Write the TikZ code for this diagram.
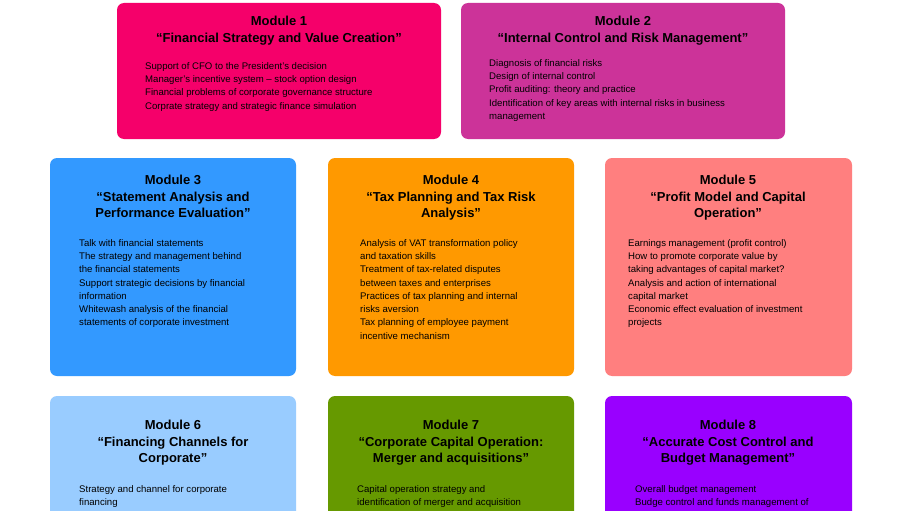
\documentclass[tikz,border=0pt]{standalone}
\usepackage{fontspec}
\setmainfont{Liberation Sans}
\definecolor{cA}{HTML}{F5006A}
\definecolor{cB}{HTML}{CC3399}
\definecolor{cC}{HTML}{3399FF}
\definecolor{cD}{HTML}{FF9900}
\definecolor{cE}{HTML}{FF7F7F}
\definecolor{cF}{HTML}{99CCFF}
\definecolor{cG}{HTML}{669900}
\definecolor{cH}{HTML}{9900FF}
\begin{document}
\begin{tikzpicture}[x=1pt,y=-1pt,
  modbox/.style={rounded corners=7pt,draw=none},
  ttl/.style={anchor=north,align=center,font=\fontsize{13}{16.5}\selectfont\bfseries,inner sep=0pt},
  bdy/.style={anchor=north west,align=left,font=\fontsize{9.6}{13.3}\selectfont,inner sep=0pt}]
\path[use as bounding box] (0,0) rectangle (908,511);
\fill[white] (0,0) rectangle (908,511);
\fill[modbox,cA] (117,3) rectangle (441,139);
\fill[modbox,cB] (461,3) rectangle (785,139);
\fill[modbox,cC] (50,158) rectangle (296,376);
\fill[modbox,cD] (328,158) rectangle (574,376);
\fill[modbox,cE] (605,158) rectangle (852,376);
\fill[modbox,cF] (50,396) rectangle (296,530);
\fill[modbox,cG] (328,396) rectangle (574,530);
\fill[modbox,cH] (605,396) rectangle (852,530);

\node[ttl] (t1) at (279,16) {Module 1\\“Financial Strategy and Value Creation”};
\node[bdy] (b1) at (145,62) {Support of CFO to the President’s decision\\Manager’s incentive system – stock option design\\Financial problems of corporate governance structure\\Corprate strategy and strategic finance simulation};
\node[ttl] (t2) at (623,16) {Module 2\\“Internal Control and Risk Management”};
\node[bdy] (b2) at (489,59) {Diagnosis of financial risks\\Design of internal control\\Profit auditing: theory and practice\\Identification of key areas with internal risks in business\\management};

\node[ttl] (t3) at (173,175) {Module 3\\“Statement Analysis and\\Performance Evaluation”};
\node[bdy] (b3) at (79,239) {Talk with financial statements\\The strategy and management behind\\the financial statements\\Support strategic decisions by financial\\information\\Whitewash analysis of the financial\\statements of corporate investment};
\node[ttl] (t4) at (451,175) {Module 4\\“Tax Planning and Tax Risk\\Analysis”};
\node[bdy] (b4) at (360,239) {Analysis of VAT transformation policy\\and taxation skills\\Treatment of tax-related disputes\\between taxes and enterprises\\Practices of tax planning and internal\\risks aversion\\Tax planning of employee payment\\incentive mechanism};
\node[ttl] (t5) at (728,175) {Module 5\\“Profit Model and Capital\\Operation”};
\node[bdy] (b5) at (628,239) {Earnings management (profit control)\\How to promote corporate value by\\taking advantages of capital market?\\Analysis and action of international\\capital market\\Economic effect evaluation of investment\\projects};

\node[ttl] (t6) at (173,420) {Module 6\\“Financing Channels for\\Corporate”};
\node[bdy] (b6) at (79,485) {Strategy and channel for corporate\\financing};
\node[ttl] (t7) at (451,420) {Module 7\\“Corporate Capital Operation:\\Merger and acquisitions”};
\node[bdy] (b7) at (357,485) {Capital operation strategy and\\identification of merger and acquisition};
\node[ttl] (t8) at (728,420) {Module 8\\“Accurate Cost Control and\\Budget Management”};
\node[bdy] (b8) at (635,485) {Overall budget management\\Budge control and funds management of};
\end{tikzpicture}
\end{document}
